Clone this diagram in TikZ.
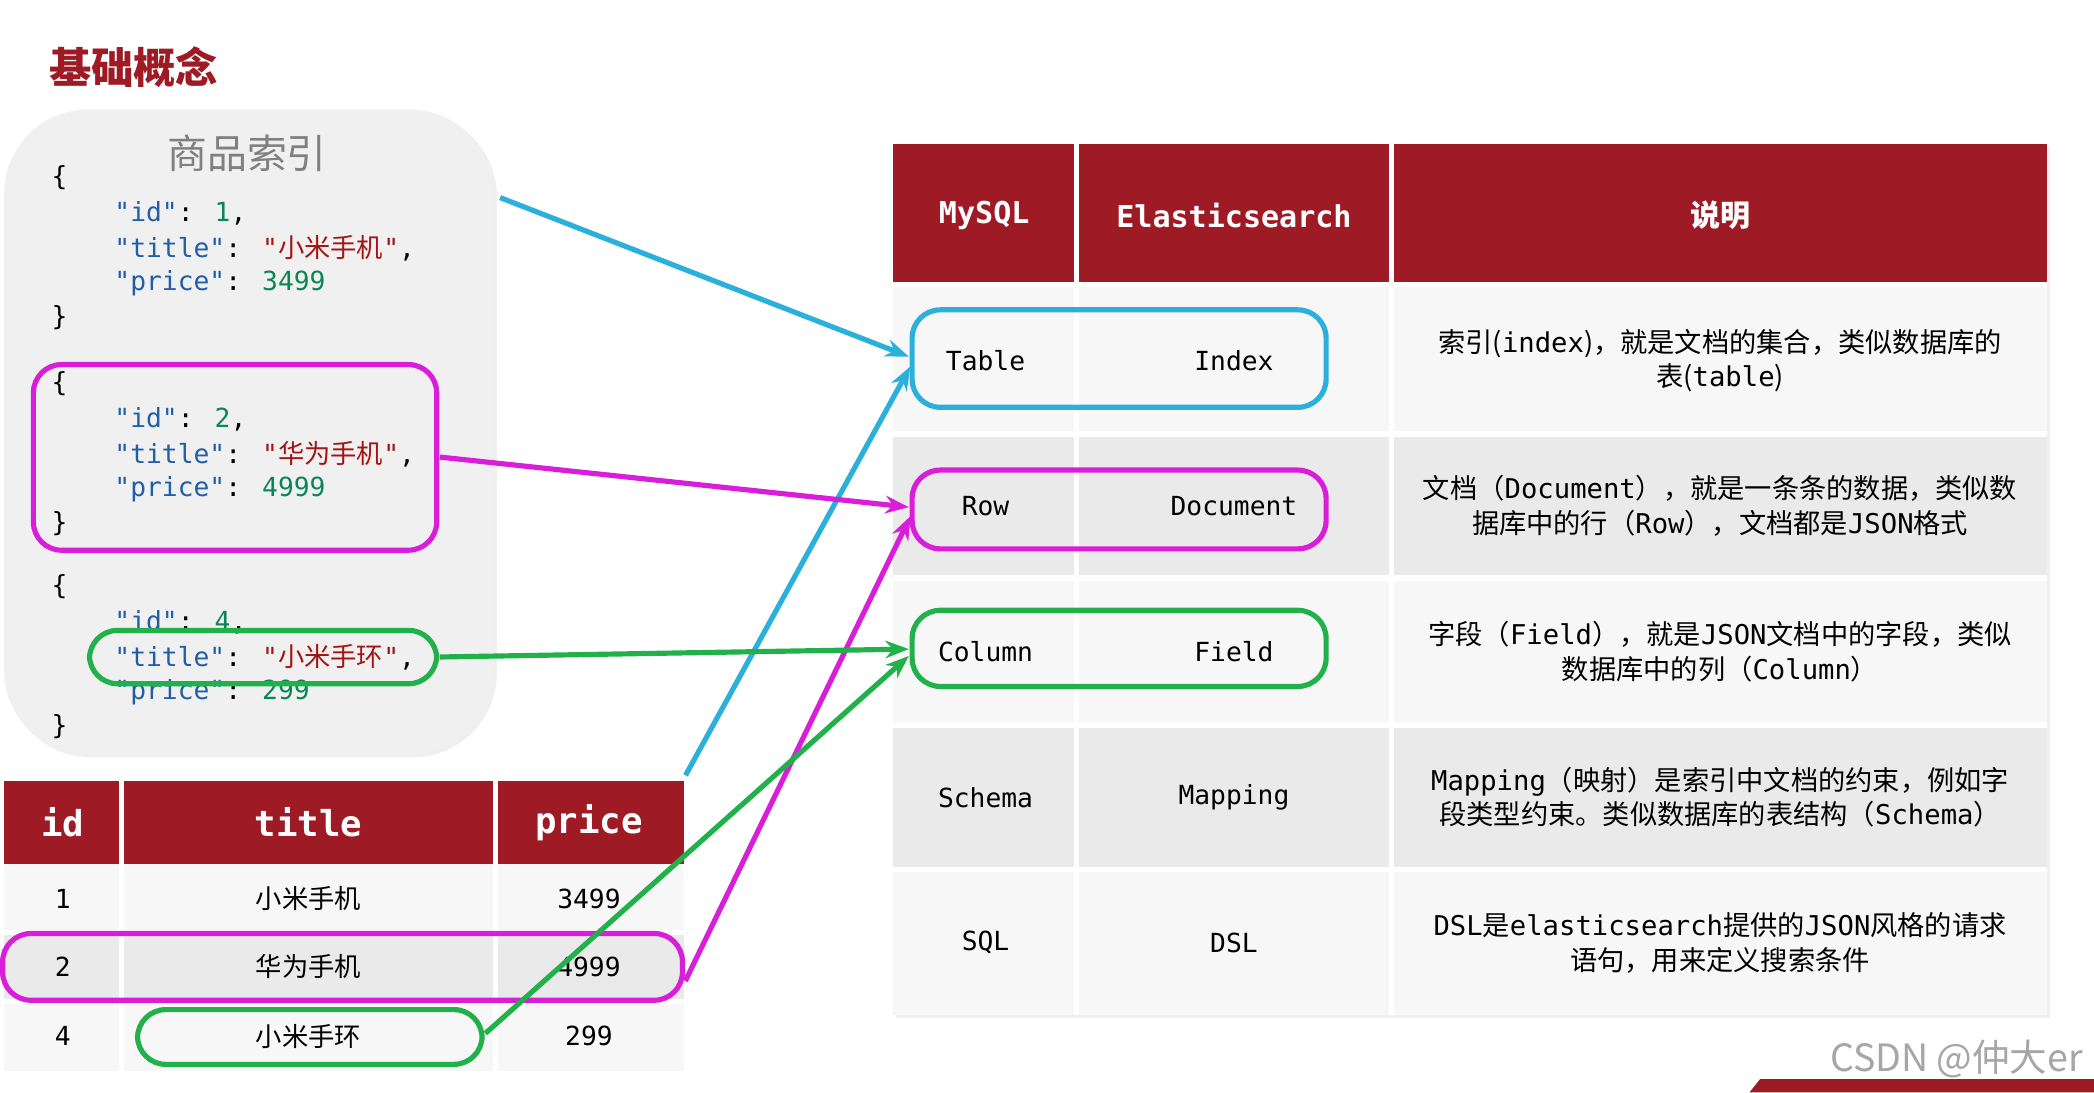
\documentclass[tikz,border=0pt]{standalone}
\usepackage{fontspec}
\setmainfont{Noto Sans CJK SC}
\newfontfamily\cjk{Noto Sans CJK SC}
\newfontfamily\mono{DejaVu Sans Mono}
\usetikzlibrary{shadows,arrows.meta}
\definecolor{hdr}{HTML}{9E1B25}
\definecolor{kblue}{HTML}{1F5FA8}
\definecolor{sred}{HTML}{A31515}
\definecolor{ngreen}{HTML}{098658}
\definecolor{cyanb}{HTML}{2BB0DC}
\definecolor{magb}{HTML}{D91ED9}
\definecolor{grnb}{HTML}{22B04A}
\definecolor{rowa}{HTML}{F7F7F7}
\definecolor{rowb}{HTML}{EAEAEA}
\begin{document}
\begin{tikzpicture}[x=0.01cm,y=-0.01cm,
  code/.style={anchor=west,inner sep=0,font=\mono\fontsize{5.6pt}{6pt}\selectfont},
  cell/.style={inner sep=0,font=\mono\fontsize{5.6pt}{6pt}\selectfont},
  desc/.style={inner sep=0,align=center,font=\cjk\fontsize{5.8pt}{7.4pt}\selectfont},
  hd/.style={inner sep=0,text=white,font=\mono\bfseries\fontsize{6.4pt}{7pt}\selectfont},
  hbox/.style={rounded corners=6,line width=1.1pt},
  conn/.style={line width=1.1pt,-{Stealth[length=5pt]}},
  softshadow/.style={drop shadow={opacity=0.12,shadow xshift=0.6pt,shadow yshift=-0.6pt}}]
\useasboundingbox (0,0) rectangle (1568,818);
\fill[white] (0,0) rectangle (1568,818);
\node[inner sep=0,text=hdr,font=\cjk\bfseries\fontsize{9pt}{10pt}\selectfont] (title) at (100,50) {基础概念};
% card
\fill[rowb!70!white,rounded corners=18,softshadow] (3,82) rectangle (370,565);
\node[inner sep=0,text=gray,font=\cjk\fontsize{8.5pt}{9pt}\selectfont] (ctitle) at (185,115) {商品索引};
\foreach \b/\id/\t/\p in {0/1/小米手机/3499,154/2/华为手机/4999,306/4/小米手环/299}{
  \node[code] at (38,133+\b) {\{};
  \node[code] at (85,160+\b) {\textcolor{kblue}{"id"}: \textcolor{ngreen}{\id},};
  \node[code] at (85,186+\b) {\textcolor{kblue}{"title"}: \textcolor{sred}{"{\cjk\t}"},};
  \node[code] at (85,212+\b) {\textcolor{kblue}{"price"}: \textcolor{ngreen}{\p}};
  \node[code] at (38,238+\b) {\}};
}
\draw[magb,hbox] (25,273) rectangle (327,412);
\node[inner sep=0] (mjb) at (327,342) {};
\draw[grnb,hbox] (67,472) rectangle (327,512);
\node[inner sep=0] (gjb) at (327,492) {};
\node[inner sep=0] (cjb) at (372,147) {};
% bottom-left table
\fill[hdr] (3,585) rectangle (512,647);
\fill[rowa] (3,647) rectangle (512,698);
\fill[rowb] (3,698) rectangle (512,750);
\fill[rowa] (3,750) rectangle (512,802);
\draw[white,line width=1pt] (91,585)--(91,802) (371,585)--(371,802);
\draw[white,line width=1pt] (3,698)--(512,698) (3,750)--(512,750);
\node[hd,font=\mono\bfseries\fontsize{7.6pt}{8pt}\selectfont] at (47,616) {id};
\node[hd,font=\mono\bfseries\fontsize{7.6pt}{8pt}\selectfont] at (231,616) {title};
\node[hd,font=\mono\bfseries\fontsize{7.6pt}{8pt}\selectfont] at (441,616) {price};
\foreach \y/\a/\b/\c in {673/1/小米手机/3499,724/2/华为手机/4999,776/4/小米手环/299}{
  \node[cell] at (47,\y) {\a};
  \node[cell,font=\cjk\fontsize{5.6pt}{6pt}\selectfont] at (231,\y) {\b};
  \node[cell] at (441,\y) {\c};
}
\draw[magb,hbox] (2,699) rectangle (511,749);
\draw[grnb,hbox] (103,756) rectangle (361,797);
\node[inner sep=0] (ctb) at (512,583) {};
\node[inner sep=0] (mtb) at (512,737) {};
\node[inner sep=0] (gtb) at (361,776) {};
% right table
\fill[rowb,softshadow] (669,108) rectangle (1533,760);
\fill[hdr] (669,108) rectangle (1533,213);
\fill[rowa] (669,213) rectangle (1533,325);
\fill[rowb] (669,325) rectangle (1533,433);
\fill[rowa] (669,433) rectangle (1533,543);
\fill[rowb] (669,543) rectangle (1533,651);
\fill[rowa] (669,651) rectangle (1533,760);
\draw[white,line width=1.2pt] (806,108)--(806,760) (1042,108)--(1042,760);
\draw[white,line width=1.2pt] (669,213)--(1533,213) (669,325)--(1533,325) (669,433)--(1533,433) (669,543)--(1533,543) (669,651)--(1533,651);
\node[hd] at (737,161) {MySQL};
\node[hd] at (924,161) {Elasticsearch};
\node[hd,font=\cjk\bfseries\fontsize{6.4pt}{7pt}\selectfont] at (1288,161) {说明};
\foreach \y/\a/\b in {270/Table/Index,379/Row/Document,488/Column/Field,597/Schema/Mapping,706/SQL/DSL}{
  \node[cell] at (738,\y) {\a};
  \node[cell] at (924,\y) {\b};
}
\node[desc] at (1288,270) {索引({\mono index})，就是文档的集合，类似数据库的\\表({\mono table})};
\node[desc] at (1288,379) {文档（{\mono Document}），就是一条条的数据，类似数\\据库中的行（{\mono Row}），文档都是{\mono JSON}格式};
\node[desc] at (1288,488) {字段（{\mono Field}），就是{\mono JSON}文档中的字段，类似\\数据库中的列（{\mono Column}）};
\node[desc] at (1288,597) {{\mono Mapping}（映射）是索引中文档的约束，例如字\\段类型约束。类似数据库的表结构（{\mono Schema}）};
\node[desc] at (1288,706) {{\mono DSL}是{\mono elasticsearch}提供的{\mono JSON}风格的请求\\语句，用来定义搜索条件};
\draw[cyanb,hbox] (683,232) rectangle (993,305);
\draw[magb,hbox] (683,352) rectangle (993,411);
\draw[grnb,hbox] (683,457) rectangle (993,514);
\node[inner sep=0] (ct) at (683,268) {};
\node[inner sep=0] (ct2) at (683,272) {};
\node[inner sep=0] (mt) at (683,380) {};
\node[inner sep=0] (mt2) at (683,384) {};
\node[inner sep=0] (gt) at (683,486) {};
\node[inner sep=0] (gt2) at (683,489) {};
% connectors
\draw[conn,cyanb] (cjb) -- (ct);
\draw[conn,cyanb] (ctb) -- (ct2);
\draw[conn,magb] (mjb) -- (mt);
\draw[conn,magb] (mtb) -- (mt2);
\draw[conn,grnb] (gjb) -- (gt);
\draw[conn,grnb] (gtb) -- (gt2);
% watermark and bar
\fill[hdr] (1310,818) -- (1318,808) -- (1568,808) -- (1568,818) -- cycle;
\node[inner sep=0,text=gray!70,font=\cjk\fontsize{8pt}{9pt}\selectfont] (wm) at (1465,793) {CSDN @仲大er};
\end{tikzpicture}
\end{document}
